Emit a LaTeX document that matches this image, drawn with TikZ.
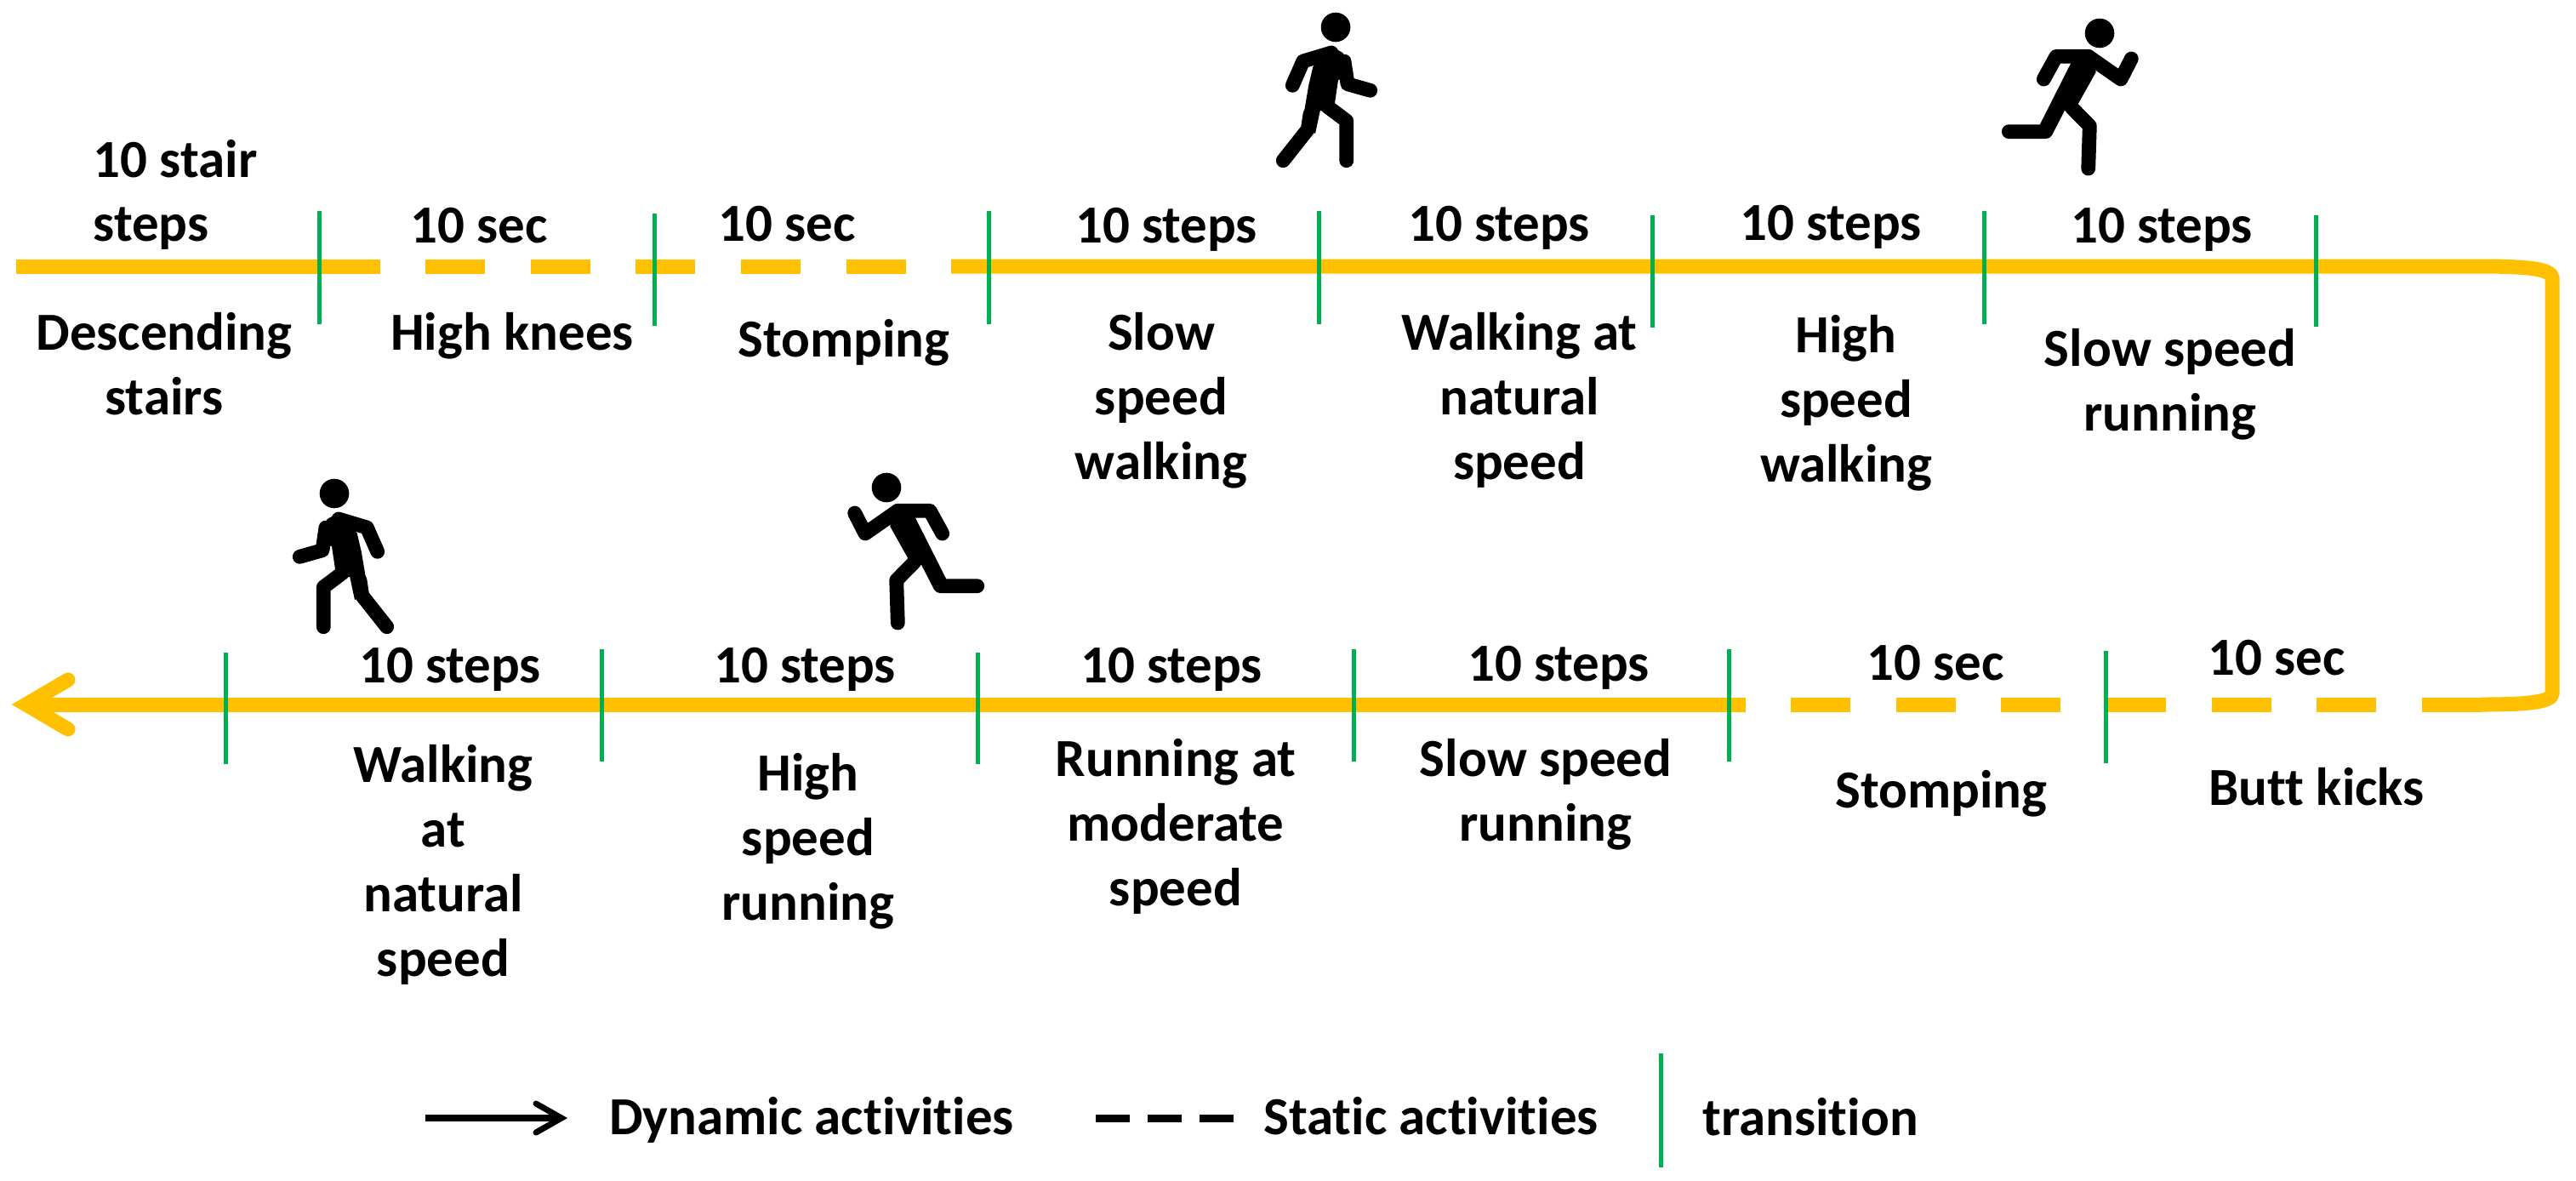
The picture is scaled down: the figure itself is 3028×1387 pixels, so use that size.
\documentclass[tikz,border=0pt]{standalone}
\usepackage{fontspec}
\setmainfont{Carlito}[Ligatures=NoCommon]
\usepackage{tikz}
\definecolor{amber}{HTML}{FFC000}
\definecolor{tickgreen}{HTML}{00B050}

\newcommand{\walker}{
                \fill (0,0) circle (17.3);
                \fill (-26.7,46.7)--(-6.7,21.7)--(8.3,30)--(20,58)--(3,62)--(-1,89)--(-18.3,98.3)--(-24,125)--(-40,117)--(-31.7,68)--cycle;
                \draw [limb] (-50.7,68.3)--(-38.3,40)--(-5,30);
                \draw [limb] (10,40)--(14,66.7)--(40.7,74.3);
                \draw [limb] (-30,102)--(-32.7,120)--(-61.7,156.7);
                \draw [limb] (-10,93)--(12.7,110)--(12.7,156.7);
}
\newcommand{\runner}{
                \fill (0,0) circle (17.3);
                \fill (-34,35.7)--(-70,107)--(-60,122)--(-45,92.3)--(-26.7,85.7)--(-4.3,45.7)--(-10,20.7)--(-35,20.7)--cycle;
                \draw [limb] (-65.7,54)--(-51,27.3)--(-13.3,27.3);
                \draw [limb] (-13.3,27.3)--(25,54)--(37.3,30);
                \draw [limb] (-45,80)--(-63.3,115.7)--(-106.7,115.7);
                \draw [limb] (-33,87.3)--(-11.7,109)--(-13.3,159);
}

\begin{document}
\begin{tikzpicture}[x=0.01cm,y=-0.01cm,
                track/.style={amber,line width=0.17cm},
                dashtrack/.style={track,dash pattern=on 0.70cm off 0.536cm},
                tick/.style={tickgreen,line width=0.05cm},
                limb/.style={line width=0.168cm,line cap=round,line join=round},
                count/.style={anchor=base,inner sep=0pt,font=\fontsize{17.9}{21.6}\selectfont\bfseries},
                act/.style={anchor=north,align=center,inner sep=0pt,font=\fontsize{17.9}{21.6}\selectfont\bfseries},
                legend/.style={anchor=base,inner sep=0pt,font=\fontsize{17.9}{21.6}\selectfont\bfseries}]
                \useasboundingbox (0,0) rectangle (3028,1387);
                % upper track
                \draw [track] (19,313)--(447,313);
                \draw [dashtrack] (500,313)--(1118,313);
                \draw [track] (1118,313)--(2912,313) .. controls (2965,313) and (3000,315) .. (3000,327)--(3000,815) .. controls (3000,826) and (2965,828) .. (2917,828);
                % lower track
                \draw [dashtrack] (2917,828)--(2052,828);
                \draw [track] (2052,828)--(30,828);
                \draw [track,line cap=round,miter limit=10] (80,799)--(30.6,828)--(80,857);
                % transitions
                \draw [tick] (375,248)--(375,381);
                \draw [tick] (769,251)--(769,383);
                \draw [tick] (1162,248)--(1162,381);
                \draw [tick] (1550,248)--(1550,381);
                \draw [tick] (1942,253)--(1942,385);
                \draw [tick] (2332,248)--(2332,381);
                \draw [tick] (2722,253)--(2722,384);
                \draw [tick] (265,767)--(265,898);
                \draw [tick] (707,763)--(707,895);
                \draw [tick] (1149,767)--(1149,898);
                \draw [tick] (1591,763)--(1591,895);
                \draw [tick] (2032,763)--(2032,895);
                \draw [tick] (2475,765)--(2475,897);
                % counts
                \draw (109,208) node (stairs) [count,anchor=base west] {10 stair};
                \draw (109,283) node (stairsb) [count,anchor=base west] {steps};
                \draw (563,285) node (secA) [count] {10 sec};
                \draw (925,283) node (secB) [count] {10 sec};
                \draw (1371,285) node (stepsA) [count] {10 steps};
                \draw (1762,283) node (stepsB) [count] {10 steps};
                \draw (2152,282) node (stepsC) [count] {10 steps};
                \draw (2541,285) node (stepsD) [count] {10 steps};
                \draw (529,802) node (stepsE) [count] {10 steps};
                \draw (946,802) node (stepsF) [count] {10 steps};
                \draw (1377,802) node (stepsG) [count] {10 steps};
                \draw (1832,800) node (stepsH) [count] {10 steps};
                \draw (2275,799) node (secC) [count] {10 sec};
                \draw (2676,793) node (secD) [count] {10 sec};
                % activities
                \draw (193,367) node (descend) [act] {Descending\\stairs};
                \draw (602,367) node (knees) [act] {High knees};
                \draw (992,375) node (stompA) [act] {Stomping};
                \draw (1365,367) node (slowwalk) [act] {Slow\\speed\\walking};
                \draw (1786,367) node (natwalk) [act] {Walking at\\natural\\speed};
                \draw (2170,370) node (fastwalk) [act] {High\\speed\\walking};
                \draw (2551,386) node (slowrunA) [act] {Slow speed\\running};
                \draw (521,875) node (natwalkB) [act] {Walking\\at\\natural\\speed};
                \draw (950,885) node (fastrun) [act] {High\\speed\\running};
                \draw (1382,868) node (modrun) [act] {Running at\\moderate\\speed};
                \draw (1817,868) node (slowrunB) [act] {Slow speed\\running};
                \draw (2282,905) node (stompB) [act] {Stomping};
                \draw (2723,902) node (butt) [act] {Butt kicks};
                % figures
                \begin{scope}[shift={(1570,32)}]
                \walker
                \end{scope}
                \begin{scope}[shift={(393,580)},xscale=-1]
                \walker
                \end{scope}
                \begin{scope}[shift={(2468,39)}]
                \runner
                \end{scope}
                \begin{scope}[shift={(1042,573)},xscale=-1]
                \runner
                \end{scope}
                % legend
                \draw [line width=0.08cm] (500,1314)--(658,1314);
                \draw [line width=0.07cm,line cap=round] (630,1297)--(660,1314)--(630,1331);
                \draw (954,1333) node (dyn) [legend] {Dynamic activities};
                \draw [line width=0.09cm,dash pattern=on 0.40cm off 0.21cm] (1288,1314)--(1450,1314);
                \draw (1682,1333) node (stat) [legend] {Static activities};
                \draw [tick] (1952,1238)--(1952,1372);
                \draw (2128,1334) node (trans) [legend] {transition};
\end{tikzpicture}
\end{document}
